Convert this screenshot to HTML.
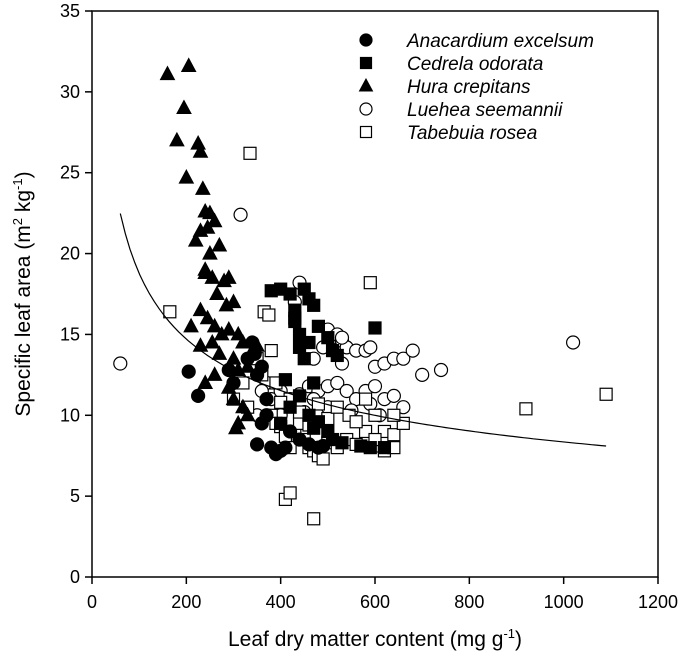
<!DOCTYPE html>
<html><head><meta charset="utf-8"><style>
body{margin:0;background:#fff}
svg{display:block;font-family:"Liberation Sans",Arial,sans-serif}
</style></head><body>
<svg id="chart" width="685" height="663" viewBox="0 0 685 663">
<g id="plot"></g>
</svg>
<script>
const xTicks=[0,200,400,600,800,1000,1200];
const yTicks=[0,5,10,15,20,25,30,35];
const species=["Anacardium excelsum","Cedrela odorata","Hura crepitans","Luehea seemannii","Tabebuia rosea"];
const anacardium=[[205,12.7],[225,11.2],[290,12.8],[300,12],[330,13.5],[345,13.8],[350,8.2],[360,9.5],[370,10],[380,8],[390,7.6],[400,7.8],[410,8],[420,9],[440,8.5],[460,8.2],[480,8],[490,8.1],[350,12.5],[340,14.5],[360,13],[370,11]];
const cedrela=[[380,17.7],[400,17.8],[420,17.5],[430,16.5],[440,15],[450,17.8],[460,17.2],[470,16.8],[430,15.8],[440,14.2],[460,14.5],[480,15.5],[500,14.8],[510,14],[520,13.7],[600,15.4],[410,12.2],[440,11.2],[460,10],[470,9.2],[480,9.6],[500,9],[510,8.5],[530,8.3],[570,8.1],[590,8],[620,8],[420,10.5],[400,9.5],[430,16],[450,13.5],[470,12]];
const hura=[[160,31.1],[205,31.6],[195,29],[180,27],[225,26.8],[230,26.3],[200,24.7],[235,24],[240,22.6],[250,22.5],[245,21.6],[260,22],[230,21.4],[220,20.8],[250,20],[270,20.5],[240,19],[255,18.5],[240,18.8],[280,18.3],[290,18.5],[300,17],[265,17.5],[285,16.8],[230,16.5],[245,16],[260,15.5],[275,15],[290,15.3],[310,15],[320,14.5],[340,14],[350,14.3],[255,14.5],[270,13.8],[300,13.5],[310,12.8],[330,13],[260,12.5],[290,11.7],[300,11],[320,10.5],[330,10],[310,9.5],[305,9.2],[240,12],[230,14.3],[210,15.5]];
const luehea=[[60,13.2],[315,22.4],[440,18.2],[430,17],[470,13.5],[490,14.2],[500,15.3],[510,14.8],[520,15],[530,14.6],[540,14.2],[530,13.2],[560,14],[580,14],[590,14.2],[600,13],[620,13.2],[640,13.5],[660,13.5],[680,14],[700,12.5],[740,12.8],[1020,14.5],[380,11],[400,11.5],[420,11],[440,11.3],[460,11.8],[480,11.5],[500,11.8],[520,12],[540,11.5],[560,11],[580,11.5],[600,11.8],[620,11],[640,11.2],[660,10.5],[400,10],[450,10.2],[500,10.5],[550,10.3],[590,10.7],[610,10],[350,10],[370,12],[360,11.5],[530,14.8],[470,11]];
const tabebuia=[[165,16.4],[335,26.2],[365,16.4],[375,16.2],[380,14],[300,11],[320,12],[330,10.5],[350,13.5],[380,10],[390,9.5],[400,9.3],[410,8.7],[420,8],[430,9],[440,9.5],[450,8.5],[460,8],[470,7.8],[480,7.5],[490,7.3],[500,8.3],[520,8],[540,8.5],[560,8.2],[580,9],[600,8.1],[620,7.8],[640,8],[620,9],[640,8.8],[660,9.5],[410,4.8],[420,5.2],[470,3.6],[590,18.2],[920,10.4],[1090,11.3],[580,11],[600,10],[640,10],[420,11],[440,10.2],[460,9.4],[500,9.8],[520,10.5],[545,10],[560,9.6],[480,10.7],[390,12],[400,10.8],[360,12.5],[600,8.5]];
const fitA=95, fitB=-0.352, fitRange=[60,1090];

const NS="http://www.w3.org/2000/svg";
const L=92,R=658,T=11,B=577;
const sx=v=>L+(v-0)/1200*(R-L);
const sy=v=>B-(v-0)/35*(B-T);
const svg=document.getElementById('chart');
const plot=document.getElementById('plot');
function mk(tag,attrs,parent){const e=document.createElementNS(NS,tag);for(const k in attrs)e.setAttribute(k,attrs[k]);(parent||svg).appendChild(e);return e;}

const frame=mk('rect',{x:L,y:T,width:R-L,height:B-T,fill:'none',stroke:'#000','stroke-width':1.5});



xTicks.forEach(v=>{
  const t=mk('line',{x1:sx(v),x2:sx(v),y1:B,y2:B+7,stroke:'#000','stroke-width':1.5});
  
  
  const tx=mk('text',{x:sx(v),y:B+31,'text-anchor':'middle','font-size':18});
  tx.textContent=v;
  
  
});
yTicks.forEach(v=>{
  const t=mk('line',{x1:L-7,x2:L,y1:sy(v),y2:sy(v),stroke:'#000','stroke-width':1.5});
  
  
  const tx=mk('text',{x:L-12,y:sy(v)+6,'text-anchor':'end','font-size':18});
  tx.textContent=v;
  
  
});

const xt=mk('text',{x:375,y:646,'text-anchor':'middle','font-size':21});
xt.innerHTML='Leaf dry matter content (mg g<tspan dy="-8" font-size="13">-1</tspan><tspan dy="8">)</tspan>';


const yt=mk('text',{x:0,y:0,'text-anchor':'middle','font-size':21,transform:'translate(30,294) rotate(-90)'});
yt.innerHTML='Specific leaf area (m<tspan dy="-8" font-size="13">2</tspan><tspan dy="8"> kg</tspan><tspan dy="-8" font-size="13">-1</tspan><tspan dy="8">)</tspan>';



function marker(kind,x,y,parent,s){
  s=s||6.5;let e;
  const fill=(kind<3)?'#000':'#fff';
  if(kind===0||kind===3) e=mk('circle',{cx:x,cy:y,r:s,fill:fill,stroke:'#000','stroke-width':1.2},parent);
  else if(kind===1||kind===4) e=mk('rect',{x:x-s+0.5,y:y-s+0.5,width:2*s-1,height:2*s-1,fill:fill,stroke:'#000','stroke-width':1.2},parent);
  else e=mk('polygon',{points:`${x},${y-s-1} ${x-s-0.5},${y+s-1} ${x+s+0.5},${y+s-1}`,fill:fill,stroke:'#000','stroke-width':1},parent);
  return e;
}
const sets=[anacardium,cedrela,hura,luehea,tabebuia];
const names=['anacardium-point','cedrela-point','hura-point','luehea-point','tabebuia-point'];
[3,4,0,1,2].forEach(k=>{
  sets[k].forEach(p=>{
    const e=marker(k,sx(p[0]),sy(p[1]),plot);
    
    
  });
});

let d='';
for(let i=0;i<=100;i++){const v=fitRange[0]+(fitRange[1]-fitRange[0])*i/100;d+=(i?'L':'M')+sx(v).toFixed(1)+','+sy(fitA*Math.pow(v,fitB)).toFixed(1);}
const fit=mk('path',{d:d,fill:'none',stroke:'#000','stroke-width':1.2});



species.forEach((s,i)=>{
  const y=40+i*23;
  const m=marker(i,366,y,svg,6);
  
  
  const t=mk('text',{x:407,y:y+7,'font-size':19,'font-style':'italic'});
  t.textContent=s;
  
  
});
</script>
</body></html>
